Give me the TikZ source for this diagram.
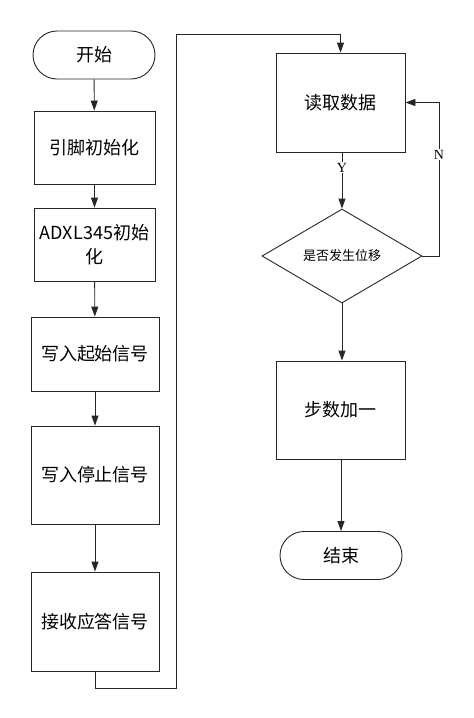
\documentclass[tikz,border=0pt]{standalone}
\usepackage{fontspec}
\newfontfamily\cjk{Noto Sans CJK SC}
\newfontfamily\yn{Liberation Serif}
\usetikzlibrary{arrows.meta,shapes.geometric}
\tikzset{
  box/.style={draw=black!85,line width=0.9pt,font=\cjk\fontsize{18}{24}\selectfont,align=center,inner sep=2pt},
  term/.style={box,rounded corners=24pt,minimum width=122pt,minimum height=48pt},
  dec/.style={draw=black!85,line width=0.9pt,diamond,aspect=1.7,inner sep=0pt,minimum width=160pt,minimum height=94pt,font=\cjk\fontsize{13}{16}\selectfont},
  line/.style={draw=black!85,line width=0.9pt,-{Triangle[length=10pt,width=7pt]}},
  lab/.style={fill=white,inner sep=1pt,font=\yn\fontsize{14}{16}\selectfont}
}
\begin{document}
\begin{tikzpicture}[x=1pt,y=-1pt]
  \useasboundingbox (0,0) rectangle (474,718);
  \node (start) [term] at (94,55) {开始};
  \node (pin) [box,minimum width=121pt,minimum height=73pt] at (94.5,147.5) {引脚初始化};
  \node (adxl) [box,minimum width=121pt,minimum height=73pt] at (94.5,244.5) {ADXL345初始\\化};
  \node (wstart) [box,minimum width=128pt,minimum height=74pt] at (95,354) {写入起始信号};
  \node (wstop) [box,minimum width=128pt,minimum height=98pt] at (95,475) {写入停止信号};
  \node (ack) [box,minimum width=128pt,minimum height=99pt] at (95,621.5) {接收应答信号};

  \node (read) [box,minimum width=129pt,minimum height=99pt] at (340.5,102.5) {读取数据};
  \node (move) [dec] at (342,256) {是否发生位移};
  \node (step) [box,minimum width=129pt,minimum height=98pt] at (340.5,410) {步数加一};
  \node (end) [term] at (341,555.5) {结束};

  \coordinate (c1) at (176,688);
  \coordinate (c2) at (176,34);
  \coordinate (n1) at (439,256);

  \draw[line] (start) -- (pin);
  \draw[line] (pin) -- (adxl);
  \draw[line] (adxl) -- (wstart);
  \draw[line] (wstart) -- (wstop);
  \draw[line] (wstop) -- (ack);
  \draw[line] (ack.south) |- (c1) -- (c2) -| (read.north);
  \draw[line] (read.south -| move.north) -- (move.north) node[lab,pos=0.27] {Y};
  \draw[line] (move.east) -- (n1) |- (read.east) node[lab,pos=0.33] {N};
  \draw[line] (move.south) -- (move.south |- step.north);
  \draw[line] (step.south -| end.north) -- (end.north);
\end{tikzpicture}
\end{document}
